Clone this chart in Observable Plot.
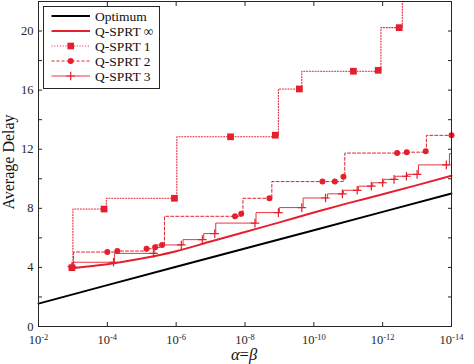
<!DOCTYPE html>
<html>
<head>
<meta charset="utf-8">
<script src="https://cdn.jsdelivr.net/npm/d3@7"></script>
<script src="https://cdn.jsdelivr.net/npm/@observablehq/plot@0.6"></script>
<style>
  html, body { margin: 0; padding: 0; background: #fff; }
  #wrap { position: relative; width: 474px; height: 364px; font-family: "Liberation Serif", serif; }
  #wrap svg { display: block; }
</style>
</head>
<body>
<div id="wrap"></div>
<script>
// ---- data (x given as log10(alpha)) ----
const optExp = [-2, -4, -6, -8, -10, -12, -14];
const optVal = [1.55, 2.8, 4.04, 5.28, 6.52, 7.76, 9.0];

const infExp = [-2.97, -4, -5, -6, -7, -8, -9, -10, -11, -12, -13, -14];
const infVal = [3.95, 4.22, 4.6, 5.1, 5.75, 6.4, 7.05, 7.72, 8.35, 8.95, 9.57, 10.2];

const q1Exp = [-2.97, -3.905, -5.95, -7.58, -8.88, -9.58, -11.15, -11.87, -12.48];
const q1Val = [3.98, 7.95, 8.68, 12.84, 12.95, 16.08, 17.28, 17.34, 20.23];
const q1JumpExp = [-3.0, -3.97, -6.02, -8.97, -9.65, -11.95, -12.57];
const q1JumpVal = [7.95, 8.68, 12.84, 16.08, 17.28, 20.23, 23.5];

const q2Exp = [-2.97, -4.0, -4.29, -5.14, -5.39, -5.59, -7.71, -7.89, -8.71, -10.25, -10.61, -10.86, -12.42, -12.70, -13.25, -14.0];
const q2Val = [4.0, 5.04, 5.11, 5.27, 5.36, 5.52, 7.46, 7.64, 8.68, 9.81, 9.82, 10.14, 11.74, 11.8, 11.87, 12.94];
const q2JumpExp = [-3.02, -5.66, -7.94, -8.78, -10.9, -13.27];
const q2JumpVal = [5.04, 7.46, 8.68, 9.81, 11.74, 12.94];

const q3Exp = [-2.97, -4.18, -5.34, -6.15, -6.76, -7.12, -8.29, -8.97, -9.65, -10.34, -10.83, -11.26, -11.67, -12.0, -12.33, -12.69, -13.0, -13.85];
const q3Val = [4.05, 4.35, 4.95, 5.52, 5.88, 6.29, 7.0, 7.71, 8.05, 8.7, 8.98, 9.22, 9.5, 9.73, 9.96, 10.17, 10.3, 10.94];
const q3JumpExp = [-3.0, -4.21, -5.38, -6.2, -6.8, -7.15, -8.32, -9.0, -9.69, -10.4, -10.86, -11.3, -11.71, -12.03, -12.36, -12.72, -13.04, -13.94, -14.0];
const q3JumpVal = [4.35, 4.95, 5.52, 5.88, 6.29, 7.0, 7.71, 8.05, 8.7, 8.98, 9.22, 9.5, 9.73, 9.96, 10.17, 10.3, 10.94, 11.7, 11.7];

const xTickExp = [-2, -4, -6, -8, -10, -12, -14];
const yTicks = [0, 2, 4, 6, 8, 10, 12, 14, 16, 18, 20, 22];
const yLabels = [0, 4, 8, 12, 16, 20];
const legendLabels = ["Optimum", "Q-SPRT \u221E", "Q-SPRT 1", "Q-SPRT 2", "Q-SPRT 3"];

// ---- build tables ----
const RED = "#e4202e";
const AX = "#262626";
const pts = (E, V) => E.map((e, i) => ({a: Math.pow(10, e), v: V[i]}));
const steps = (E, V, JE, JV) => pts(E, V).concat(pts(JE, JV)).sort((p, q) => q.a - p.a);

const opt = pts(optExp, optVal);
const inf = pts(infExp, infVal);
const q1 = pts(q1Exp, q1Val), q1Line = steps(q1Exp, q1Val, q1JumpExp, q1JumpVal);
const q2 = pts(q2Exp, q2Val), q2Line = steps(q2Exp, q2Val, q2JumpExp, q2JumpVal);
const q3 = pts(q3Exp, q3Val), q3Line = steps(q3Exp, q3Val, q3JumpExp, q3JumpVal);
const xTicks = xTickExp.map(e => Math.pow(10, e));

const chart = Plot.plot({
  width: 474,
  height: 364,
  marginLeft: 38,
  marginRight: 23,
  marginTop: 1,
  marginBottom: 38,
  style: {fontFamily: "Liberation Serif, serif", fontSize: "12.5px", color: AX, background: "#fff"},
  x: {type: "log", domain: [1e-2, 1e-14]},
  y: {domain: [0, 22]},
  marks: [
    Plot.line(opt, {x: "a", y: "v", stroke: "#000", strokeWidth: 2}),
    Plot.line(inf, {x: "a", y: "v", stroke: RED, strokeWidth: 2, curve: "monotone-x"}),
    Plot.line(q3Line, {x: "a", y: "v", stroke: RED, strokeWidth: 0.9, curve: "step-after", clip: true}),
    Plot.line(q2Line, {x: "a", y: "v", stroke: RED, strokeWidth: 1, strokeDasharray: "3 2", curve: "step-after", clip: true}),
    Plot.line(q1Line, {x: "a", y: "v", stroke: RED, strokeWidth: 1.1, strokeDasharray: "1 1.8", curve: "step-after", clip: true}),
    Plot.dot(q3, {x: "a", y: "v", symbol: "plus", r: 2.9, stroke: RED, strokeWidth: 1.2}),
    Plot.dot(q2, {x: "a", y: "v", symbol: "circle", r: 3, fill: RED, stroke: "none"}),
    Plot.dot(q1, {x: "a", y: "v", symbol: "square", r: 3.8, fill: RED, stroke: "none"}),
    Plot.frame({stroke: AX, strokeWidth: 1}),
    Plot.axisY({ticks: yTicks, anchor: "left", tickSize: -4, tickPadding: 9, label: null, fontSize: 12.5,
      tickFormat: d => yLabels.includes(d) ? String(d) : ""}),
    Plot.axisY({ticks: yTicks, anchor: "right", tickSize: -4, label: null, tickFormat: () => ""}),
    Plot.axisX({ticks: xTicks, anchor: "bottom", tickSize: -4, tickPadding: 12.5, label: null, fontSize: 12.5,
      tickFormat: d => "10^" + Math.round(Math.log10(d))}),
    Plot.axisX({ticks: xTicks, anchor: "top", tickSize: -4, label: null, tickFormat: () => ""})
  ]
});

const wrap = document.getElementById("wrap");
wrap.appendChild(chart);

// superscripts on x tick labels
d3.select(chart).selectAll("g[aria-label='x-axis tick label'] text").each(function () {
  const s = this.textContent;
  if (!s.includes("^")) return;
  const [b, ex] = s.split("^");
  const t = d3.select(this);
  t.text(null);
  t.append("tspan").text(b);
  t.append("tspan").attr("dy", "-0.42em").attr("font-size", "8.5px").text(ex);
});

// axis titles
const svg = d3.select(chart);
svg.append("text")
  .attr("transform", "translate(13.5,162) rotate(-90)")
  .attr("text-anchor", "middle")
  .attr("font-family", "Liberation Serif, serif")
  .attr("font-size", "16px")
  .attr("fill", "#111")
  .text("Average Delay");
const xl = svg.append("text")
  .attr("x", 244).attr("y", 360)
  .attr("text-anchor", "middle")
  .attr("font-family", "Liberation Serif, serif")
  .attr("font-size", "16.5px")
  .attr("fill", "#111");
xl.append("tspan").attr("font-style", "italic").text("\u03B1");
xl.append("tspan").text("=");
xl.append("tspan").attr("font-style", "italic").text("\u03B2");

// legend overlay
const lg = d3.select(wrap).append("svg")
  .attr("width", 117).attr("height", 83)
  .style("position", "absolute").style("left", "43px").style("top", "6px");
lg.append("rect").attr("x", 0.5).attr("y", 0.5).attr("width", 116).attr("height", 82)
  .attr("fill", "#fff").attr("stroke", AX).attr("stroke-width", 1);
const styles = [
  {stroke: "#000", w: 2, dash: null, sym: null},
  {stroke: RED, w: 2, dash: null, sym: null},
  {stroke: RED, w: 1.1, dash: "1 1.8", sym: "square"},
  {stroke: RED, w: 1, dash: "3 2", sym: "circle"},
  {stroke: RED, w: 0.9, dash: null, sym: "plus"}
];
legendLabels.forEach((lab, i) => {
  const y = 10 + i * 15;
  const s = styles[i];
  lg.append("line").attr("x1", 8.5).attr("x2", 47).attr("y1", y).attr("y2", y)
    .attr("stroke", s.stroke).attr("stroke-width", s.w).attr("stroke-dasharray", s.dash);
  if (s.sym === "square") lg.append("rect").attr("x", 24.4).attr("y", y - 3.3).attr("width", 6.6).attr("height", 6.6).attr("fill", RED);
  if (s.sym === "circle") lg.append("circle").attr("cx", 27.7).attr("cy", y).attr("r", 3).attr("fill", RED);
  if (s.sym === "plus") lg.append("path").attr("d", d3.symbol(d3.symbolPlus, Math.PI * 2.9 * 2.9)()).attr("transform", `translate(27.7,${y})`).attr("fill", "none").attr("stroke", RED).attr("stroke-width", 1.2);
  lg.append("text").attr("x", 52).attr("y", y + 4.5)
    .attr("font-family", "Liberation Serif, serif").attr("font-size", "13.5px").attr("fill", "#111").text(lab);
});
</script>
</body>
</html>
